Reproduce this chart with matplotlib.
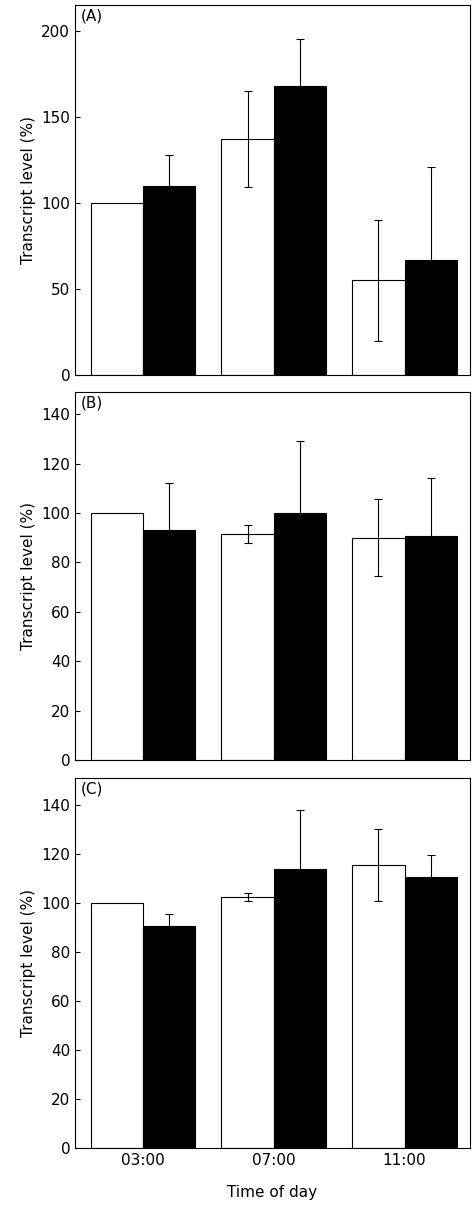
import matplotlib
matplotlib.use("Agg")
import matplotlib.pyplot as plt
import numpy as np

times = ["03:00", "07:00", "11:00"]
labels = ["(A)", "(B)", "(C)"]
white_vals = [[100, 137, 55], [100, 91.5, 90], [100, 102.5, 115.5]]
white_err = [[0, 28, 35], [0, 3.5, 15.5], [0, 1.5, 14.5]]
black_vals = [[110, 168, 67], [93, 100, 90.5], [90.5, 114, 110.5]]
black_err = [[18, 27, 54], [19, 29, 23.5], [5, 24, 9]]
ylims = [215, 149, 151]
yticks = [np.arange(0, 201, 50), np.arange(0, 141, 20), np.arange(0, 141, 20)]

fig = plt.figure(figsize=(4.74, 12.28), dpi=100)
H = 1228
boxes = [(5, 375), (392, 760), (778, 1148)]
x = np.arange(3)
w = 0.4
for i, (t, b) in enumerate(boxes):
    ax = fig.add_axes([75/474, 1 - b/H, 395/474, (b - t)/H])
    ax.bar(x - w/2, white_vals[i], w, color="white", edgecolor="black", linewidth=0.8)
    ax.bar(x + w/2, black_vals[i], w, color="black", edgecolor="black", linewidth=0.8)
    for j in range(3):
        if white_err[i][j] > 0:
            ax.errorbar(x[j] - w/2, white_vals[i][j], yerr=white_err[i][j], fmt="none",
                        ecolor="black", elinewidth=0.8, capsize=3, capthick=0.8)
        ax.errorbar(x[j] + w/2, black_vals[i][j], yerr=black_err[i][j], fmt="none",
                    ecolor="black", elinewidth=0.8, capsize=3, capthick=0.8)
    ax.set_xlim(-0.52, 2.5)
    ax.set_ylim(0, ylims[i])
    ax.set_yticks(yticks[i])
    ax.tick_params(direction="in", labelsize=11)
    ax.set_ylabel("Transcript level (%)", fontsize=11)
    ax.text(0.015, 0.99, labels[i], transform=ax.transAxes, ha="left", va="top", fontsize=11)
    ax.set_xticks(x)
    if i < 2:
        ax.set_xticklabels([])
    else:
        ax.set_xticklabels(times)
        ax.set_xlabel("Time of day", fontsize=11, labelpad=12)
fig.savefig("out.png", dpi=100)
